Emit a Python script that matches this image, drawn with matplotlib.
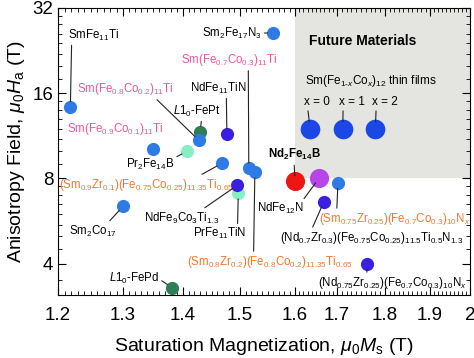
import numpy as np
import matplotlib
matplotlib.use('Agg')
import matplotlib.pyplot as plt
from matplotlib.ticker import FixedLocator, NullFormatter

plt.rcParams['font.family'] = ['Liberation Sans', 'DejaVu Sans']
plt.rcParams['mathtext.fontset'] = 'custom'
plt.rcParams['mathtext.rm'] = 'Liberation Sans'
plt.rcParams['mathtext.it'] = 'Liberation Sans:italic'
plt.rcParams['mathtext.bf'] = 'Liberation Sans:bold'

# x tick values and where they sit along the (unevenly stretched) original axis
x_ticks = [1.2, 1.3, 1.4, 1.5, 1.6, 1.7, 1.8, 1.9, 2.0]
x_tick_labels = ['1.2', '1.3', '1.4', '1.5', '1.6', '1.7', '1.8', '1.9', '2']
x_tick_pos = [0, 65, 125, 182, 237, 279, 327, 372, 412]
y_ticks = [4, 8, 16, 32]

# materials: saturation magnetization (T), anisotropy field (T)
names = [
    r'SmFe$_{11}$Ti',
    r'Sm(Fe$_{0.9}$Co$_{0.1}$)$_{11}$Ti',
    r'$L$1$_0$-FePt',
    r'Sm(Fe$_{0.8}$Co$_{0.2}$)$_{11}$Ti',
    r'Pr$_2$Fe$_{14}$B',
    r'NdFe$_{11}$TiN',
    r'Sm(Fe$_{0.7}$Co$_{0.3}$)$_{11}$Ti',
    r'(Sm$_{0.8}$Zr$_{0.2}$)(Fe$_{0.8}$Co$_{0.2}$)$_{11.35}$Ti$_{0.65}$',
    r'Sm$_2$Fe$_{17}$N$_3$',
    r'(Sm$_{0.9}$Zr$_{0.1}$)(Fe$_{0.75}$Co$_{0.25}$)$_{11.35}$Ti$_{0.65}$',
    r'PrFe$_{11}$TiN',
    r'NdFe$_9$Co$_3$Ti$_{1.3}$',
    r'Sm$_2$Co$_{17}$',
    r'$L$1$_0$-FePd',
    r'$\mathbf{Nd_2Fe_{14}B}$',
    r'NdFe$_{12}$N',
    r'(Sm$_{0.75}$Zr$_{0.25}$)(Fe$_{0.7}$Co$_{0.3}$)$_{10}$N$_x$',
    r'(Nd$_{0.7}$Zr$_{0.3}$)(Fe$_{0.75}$Co$_{0.25}$)$_{11.5}$Ti$_{0.5}$N$_{1.3}$',
    r'(Nd$_{0.75}$Zr$_{0.25}$)(Fe$_{0.7}$Co$_{0.3}$)$_{10}$N$_x$',
]
ms = [1.219, 1.35, 1.43, 1.428, 1.407, 1.477, 1.516, 1.527, 1.56, 1.468,
      1.497, 1.495, 1.30, 1.382, 1.60, 1.657, 1.702, 1.669, 1.7625]
ha = [14.3, 10.2, 11.7, 10.9, 9.97, 11.45, 8.68, 8.4, 26.1, 9.04,
      7.08, 7.56, 6.37, 3.29, 7.81, 8.0, 7.74, 6.63, 4.0]

# future thin films Sm(Fe1-xCox)12
film_labels = ['x = 0', 'x = 1', 'x = 2']
film_ms = [1.636, 1.712, 1.78]
film_ha = [12.0, 12.0, 12.0]

BLUE = '#2f7be6'
INDIGO = '#3b1fe0'
PINK = '#ee559e'
ORANGE = '#f2762c'
# marker colour, marker size, text colour, label pos (axes fraction), relpos of line
style = [
    (BLUE, 90, 'k', (0.085, 0.906), (0.08, 0.0)),
    (BLUE, 90, PINK, (0.138, 0.578), None),
    ('#2e7d57', 90, 'k', (0.337, 0.641), (0.6, 0.0)),
    (BLUE, 90, PINK, (0.163, 0.718), (0.8, 0.0)),
    ('#86f0c4', 90, 'k', (0.223, 0.456), (1.0, 0.9)),
    (INDIGO, 90, 'k', (0.388, 0.721), (0.65, 0.0)),
    (BLUE, 90, PINK, (0.415, 0.819), (0.7, 0.0)),
    (BLUE, 90, ORANGE, (0.515, 0.115), (0.4, 1.0)),
    (BLUE, 90, 'k', (0.422, 0.913), (1.0, 0.5)),
    (BLUE, 90, ORANGE, (0.214, 0.383), (0.79, 1.0)),
    ('#86f0c4', 90, 'k', (0.393, 0.213), (0.83, 1.0)),
    (INDIGO, 90, 'k', (0.299, 0.268), (0.76, 1.0)),
    (BLUE, 90, 'k', (0.085, 0.223), (0.8, 1.0)),
    ('#2e7d57', 90, 'k', (0.184, 0.056), (1.0, 0.5)),
    ('#f01515', 190, 'k', (0.573, 0.488), (0.5, 0.0)),
    ('#b845e8', 190, 'k', (0.541, 0.300), (0.95, 1.0)),
    (BLUE, 90, ORANGE, (0.816, 0.265), (0.12, 1.0)),
    (INDIGO, 90, 'k', (0.762, 0.199), (0.17, 1.0)),
    (INDIGO, 90, 'k', (0.811, 0.042), (0.33, 1.0)),
]

fig = plt.figure(figsize=(4.74, 3.58), dpi=100)
ax = fig.add_axes([58 / 474, 1 - 295 / 358, 412 / 474, 287 / 358])


def fwd(x):
    return np.interp(x, x_ticks, x_tick_pos)


def inv(p):
    return np.interp(p, x_tick_pos, x_ticks)


ax.set_xscale('function', functions=(fwd, inv))
ax.set_yscale('log', base=2)
ax.set_xlim(1.2, 2.0)
ax.set_ylim(3.1, 32)

# future materials region
ax.axvspan(1.6, 2.0, ymin=(np.log2(8) - np.log2(3.1)) / (5 - np.log2(3.1)),
           ymax=1, color='#e4e4e1', lw=0, zorder=0)
ax.text(0.74, 0.885, 'Future Materials', transform=ax.transAxes,
        fontsize=10, fontweight='bold', ha='center', va='center')
ax.text(0.76, 0.744, r'Sm(Fe$_{1\text{-}x}$Co$_x$)$_{12}$ thin films',
        transform=ax.transAxes, fontsize=8.5, ha='center', va='center')

line_kw = dict(arrowstyle='-', color='#222222', lw=0.8, shrinkA=0, shrinkB=4)
for name, x, y, st in zip(names, ms, ha, style):
    mc, size, tc, tpos, rel = st
    ax.scatter([x], [y], s=size, color=mc, lw=0, zorder=3)
    props = None
    if rel is not None:
        props = dict(line_kw, relpos=rel)
    ax.annotate(name, xy=(x, y), xytext=tpos, textcoords='axes fraction',
                ha='center', va='center', fontsize=8.3, color=tc,
                arrowprops=props, zorder=4)

film_text_x = [0.628, 0.714, 0.794]
for lab, x, y, tx in zip(film_labels, film_ms, film_ha, film_text_x):
    ax.scatter([x], [y], s=200, color='#1a47e6', lw=0, zorder=3)
    ax.annotate(lab, xy=(x, y), xytext=(tx, 0.672), textcoords='axes fraction',
                ha='center', va='center', fontsize=8.5,
                arrowprops=dict(line_kw, relpos=(0.15, 0.0), shrinkB=5))

ax.xaxis.set_major_locator(FixedLocator(x_ticks))
ax.set_xticklabels(x_tick_labels)
ax.xaxis.set_minor_locator(FixedLocator(np.arange(1.2, 2.0, 0.01)))
ax.yaxis.set_major_locator(FixedLocator(y_ticks))
ax.set_yticklabels([str(v) for v in y_ticks])
minor_y = [3.5] + list(np.arange(4.5, 8, 0.5)) + list(range(9, 16)) + list(range(18, 32, 2))
ax.yaxis.set_minor_locator(FixedLocator(minor_y))
ax.yaxis.set_minor_formatter(NullFormatter())
ax.tick_params(which='both', direction='in', top=True, right=True, labelsize=13.5)
ax.tick_params(which='major', length=6, width=0.8)
ax.tick_params(which='minor', length=3, width=0.6)
ax.tick_params(axis='x', which='major', pad=9)

ax.set_xlabel(r'Saturation Magnetization, $\mu_0M_\mathrm{s}$ (T)', fontsize=14, labelpad=8)
ax.set_ylabel(r'Anisotropy Field, $\mu_0H_\mathrm{a}$ (T)', fontsize=14, labelpad=4)

plt.savefig('out.png', dpi=100)
